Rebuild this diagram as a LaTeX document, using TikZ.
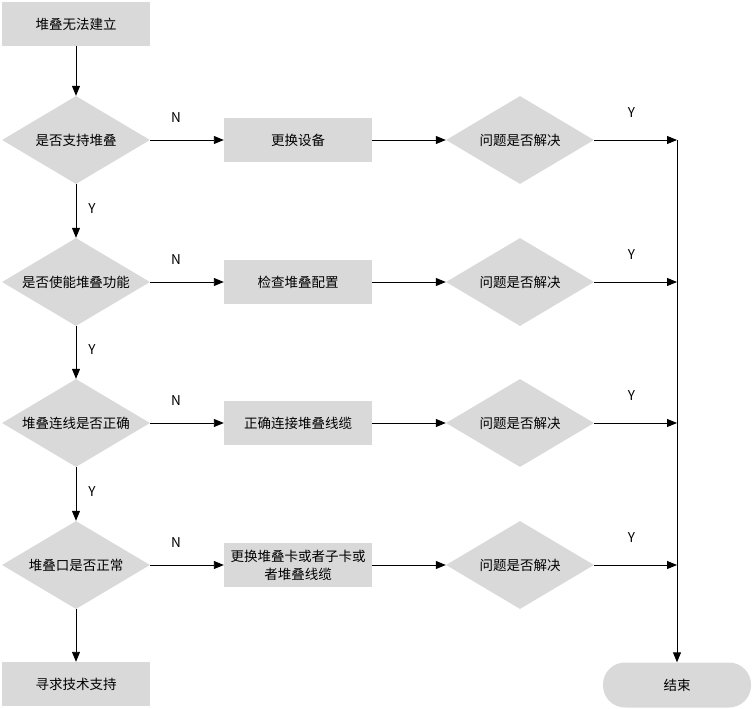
\documentclass[tikz,border=0pt]{standalone}
\usepackage{fontspec}
\setmainfont{Noto Sans CJK SC}
\usepackage{xcolor}
\usetikzlibrary{shapes.geometric,arrows.meta}
\definecolor{boxgray}{RGB}{217,217,217}

\begin{document}
\begin{tikzpicture}[x=1pt,y=-1pt,
    font=\fontsize{13.5}{18}\selectfont,
    box/.style={rectangle, fill=boxgray, minimum width=148pt, minimum height=44pt, inner sep=0pt, align=center},
    decide/.style={diamond, fill=boxgray, minimum width=148pt, minimum height=88pt, inner sep=0pt,
                   shape aspect=1.68, text height=10pt, text depth=0pt},
    term/.style={rectangle, rounded corners=22pt, fill=boxgray, minimum width=148pt, minimum height=45pt, inner sep=0pt},
    flow/.style={line width=0.9pt, -{Triangle[length=10pt,width=8pt]}},
    tag/.style={inner sep=0pt}]
                \useasboundingbox (0,0) rectangle (753,709);
                % Left column
                \node[box] (start) at (76,24) {堆叠无法建立};
                \node[decide] (q1) at (76,140) {是否支持堆叠};
                \node[decide] (q2) at (76,282) {是否使能堆叠功能};
                \node[decide] (q3) at (76,423) {堆叠连线是否正确};
                \node[decide] (q4) at (76,565) {堆叠口是否正常};
                \node[box] (help) at (76,684) {寻求技术支持};

                % Actions
                \node[box] (a1) at (298,140) {更换设备};
                \node[box] (a2) at (298,282) {检查堆叠配置};
                \node[box] (a3) at (298,423) {正确连接堆叠线缆};
                \node[box] (a4) at (298,565) {更换堆叠卡或者子卡或\\者堆叠线缆};

                % Checks
                \node[decide] (c1) at (520,140) {问题是否解决};
                \node[decide] (c2) at (520,282) {问题是否解决};
                \node[decide] (c3) at (520,423) {问题是否解决};
                \node[decide] (c4) at (520,565) {问题是否解决};

                % End and join points
                \node[term] (end) at (677,685) {结束};
                \coordinate (j1) at (677,140);
                \coordinate (j2) at (677,282);
                \coordinate (j3) at (677,423);
                \coordinate (j4) at (677,565);

                % Main path
                \draw[flow] (start) -- (q1);
                \draw[flow] (q1) -- (q2) node[tag, pos=0.45, xshift=16pt] {Y};
                \draw[flow] (q2) -- (q3) node[tag, pos=0.45, xshift=16pt] {Y};
                \draw[flow] (q3) -- (q4) node[tag, pos=0.45, xshift=16pt] {Y};
                \draw[flow] (q4) -- (help);

                % N branches
                \draw[flow] (q1) -- (a1) node[tag, pos=0.35, yshift=22pt] {N};
                \draw[flow] (q2) -- (a2) node[tag, pos=0.35, yshift=22pt] {N};
                \draw[flow] (q3) -- (a3) node[tag, pos=0.35, yshift=22pt] {N};
                \draw[flow] (q4) -- (a4) node[tag, pos=0.35, yshift=22pt] {N};
                \draw[flow] (a1) -- (c1);
                \draw[flow] (a2) -- (c2);
                \draw[flow] (a3) -- (c3);
                \draw[flow] (a4) -- (c4);

                % Y to end
                \draw[flow] (c1) -- (j1) node[tag, pos=0.45, yshift=27pt] {Y};
                \draw[flow] (c2) -- (j2) node[tag, pos=0.45, yshift=27pt] {Y};
                \draw[flow] (c3) -- (j3) node[tag, pos=0.45, yshift=27pt] {Y};
                \draw[flow] (c4) -- (j4) node[tag, pos=0.45, yshift=27pt] {Y};
                \draw[flow] (j1) -- (end);
\end{tikzpicture}
\end{document}
